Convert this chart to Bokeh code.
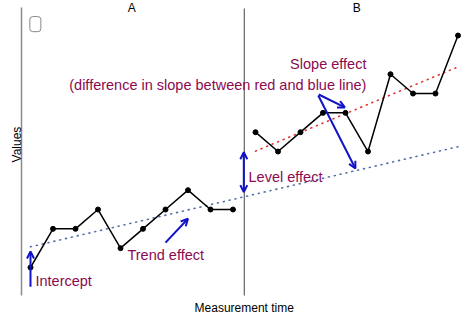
from bokeh.plotting import figure
from bokeh.models import Range1d, Arrow, OpenHead, Label
from bokeh.embed import file_html
from bokeh.resources import INLINE

# ---- data ----
time_a = [1, 2, 3, 4, 5, 6, 7, 8, 9, 10]
values_a = [1, 3, 3, 4, 2, 3, 4, 5, 4, 4]
time_b = [11, 12, 13, 14, 15, 16, 17, 18, 19, 20]
values_b = [8, 7, 8, 9, 9, 7, 11, 10, 10, 13]
trend_a_time = [1, 20]
trend_a_values = [2.07, 7.25]
trend_b_time = [11, 20]
trend_b_values = [7.02, 11.38]
phase_labels = ["A", "B"]
phase_centers = [5.5, 15.5]
phase_change = 10.5

LABEL_COLOR = "#8B0A50"
ARROW_COLOR = "#1212C8"
FONT = "Liberation Sans"

p = figure(width=474, height=316,
           x_range=Range1d(-1/3, 20.7333), y_range=Range1d(-1.535, 14.813),
           output_backend="svg", toolbar_location=None,
           x_axis_location=None, y_axis_location=None,
           min_border=0, outline_line_color=None)
p.grid.visible = False
p.background_fill_color = "white"
p.border_fill_color = "white"

# axis line and phase change line
p.segment(x0=[0.6], y0=[-0.45], x1=[0.6], y1=[14.45], line_color="#8a8a8a", line_width=1.5)
p.segment(x0=[phase_change], y0=[-0.45], x1=[phase_change], y1=[14.4], line_color="#444444", line_width=1)

# small rounded box
p.quad(left=[0.97], right=[1.46], top=[13.98], bottom=[13.2], fill_color=None,
       line_color="#888888", line_width=1, border_radius=3)

# trend lines
p.line(trend_a_time, trend_a_values, line_color="#5570A8", line_width=1.6,
       line_dash="1 5", line_cap="round")
p.line(trend_b_time, trend_b_values, line_color="#E03535", line_width=1.6,
       line_dash="1 5", line_cap="round")

# data series
p.line(time_a, values_a, line_color="black", line_width=1.5)
p.line(time_b, values_b, line_color="black", line_width=1.5)
p.scatter(time_a, values_a, size=5, color="black")
p.scatter(time_b, values_b, size=5, color="black")

# arrows
def arrow(x0, y0, x1, y1, both=False):
    a = Arrow(x_start=x0, y_start=y0, x_end=x1, y_end=y1,
              line_color=ARROW_COLOR, line_width=2,
              end=OpenHead(size=7, line_color=ARROW_COLOR, line_width=2),
              start=OpenHead(size=7, line_color=ARROW_COLOR, line_width=2) if both else None)
    p.add_layout(a)

arrow(1.0, 0.0, 1.0, 1.83)
arrow(7.0, 2.29, 8.0, 3.52)
arrow(10.48, 4.9, 10.48, 6.96, both=True)
arrow(13.79, 9.9, 15.44, 6.12)
arrow(13.81, 9.95, 14.97, 9.28)

def label(x, y, text, color=LABEL_COLOR, size="14.5px", align="left", angle=0.0):
    p.add_layout(Label(x=x, y=y, text=text, text_color=color, text_font=FONT,
                       text_font_size=size, text_align=align,
                       text_baseline="alphabetic", angle=angle))

label(15.93, 11.53, "Slope effect", align="right")
label(15.93, 10.42, "(difference in slope between red and blue line)", align="right")
label(10.69, 5.68, "Level effect")
label(5.31, 1.67, "Trend effect")
label(1.22, 0.28, "Intercept")

for name, cx in zip(phase_labels, phase_centers):
    label(cx, 14.45, name, color="black", size="12px", align="center")
label(phase_change, -1.07, "Measurement time", color="black", size="12px", align="center")
label(0.41, 7.36, "Values", color="black", size="12px", align="center", angle=1.5708)

open("out.html", "w").write(file_html(p, INLINE))
